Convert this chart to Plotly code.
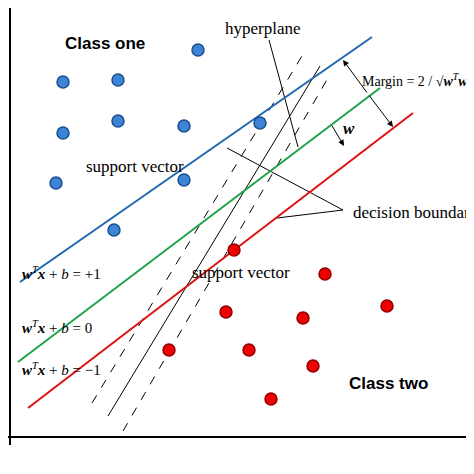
import plotly.graph_objects as go

blue_x = [63, 118, 198, 63, 118, 184, 260, 56, 184, 114]
blue_y = [82, 80, 50, 133, 121, 126, 123, 183, 180, 230]
red_x = [234, 325, 387, 226, 303, 169, 249, 313, 271]
red_y = [250, 274, 306, 312, 318, 350, 350, 366, 399]

# line endpoints (x0, y0, x1, y1) in picture units
blue_line = [20, 282, 372, 37]
green_line = [18, 362, 380, 88]
red_line = [28, 408, 413, 113]
dash_left = [92, 403, 305, 51]
solid_black = [108, 416, 320, 66]
dash_right = [123, 431, 328, 78]
hyper_ptr = [269, 40, 298, 147]
dec_ptr1 = [227, 148, 343, 210]
dec_ptr2 = [277, 218, 343, 210]
x_axis = [0, 437, 480, 437]
y_axis = [10, 0, 10, 445]

fig = go.Figure()
def seg(s, color, width=1.3, dash=None):
    fig.add_trace(go.Scatter(x=[s[0], s[2]], y=[s[1], s[3]], mode="lines",
                             line=dict(color=color, width=width, dash=dash),
                             hoverinfo="skip", showlegend=False))

seg(x_axis, "black", 2)
seg(y_axis, "black", 2)
seg(dash_left, "black", 1, "dash")
seg(dash_right, "black", 1, "dash")
seg(solid_black, "black", 1)
seg(hyper_ptr, "black", 1)
seg(dec_ptr1, "black", 1)
seg(dec_ptr2, "black", 1)
seg(blue_line, "#1f68b0", 2)
seg(green_line, "#1ea34a", 2)
seg(red_line, "#e01010", 2)

fig.add_trace(go.Scatter(x=blue_x, y=blue_y, mode="markers", showlegend=False,
                         marker=dict(size=12, color="#3d84d6", line=dict(color="#1a4f90", width=1.5))))
fig.add_trace(go.Scatter(x=red_x, y=red_y, mode="markers", showlegend=False,
                         marker=dict(size=12, color="#ee0000", line=dict(color="#900000", width=1.5))))

F = "Liberation Serif"
def txt(x, y, t, size=15, fam=F, anchor="center"):
    fig.add_annotation(x=x, y=y, text=t, showarrow=False, xanchor=anchor,
                       font=dict(family=fam, size=size, color="black"))

txt(105, 43, "<b>Class one</b>", 17, "Liberation Sans")
txt(388, 383, "<b>Class two</b>", 17, "Liberation Sans")
txt(263, 28, "hyperplane", 17)
txt(84, 166, "support vector", 17, anchor="left")
txt(190, 272, "support vector", 17, anchor="left")
txt(351, 212, "decision boundary", 17, anchor="left")
txt(360, 80, "Margin = 2 / √<b><i>w</i></b><sup><i>T</i></sup><b><i>w</i></b>", 14, anchor="left")
txt(341, 128, "<b><i>w</i></b>", 17, anchor="left")
txt(20, 273, "<b><i>w</i></b><sup><i>T</i></sup><b><i>x</i></b> + <i>b</i> = +1", 15, anchor="left")
txt(20, 327, "<b><i>w</i></b><sup><i>T</i></sup><b><i>x</i></b> + <i>b</i> = 0", 15, anchor="left")
txt(20, 369, "<b><i>w</i></b><sup><i>T</i></sup><b><i>x</i></b> + <i>b</i> = −1", 15, anchor="left")

# arrows
for (x0, y0, x1, y1) in [(368, 94, 343, 60), (368, 94, 393, 127), (331, 124, 344, 146)]:
    fig.add_annotation(x=x1, y=y1, ax=x0, ay=y0, xref="x", yref="y", axref="x", ayref="y",
                       showarrow=True, arrowhead=2, arrowsize=1.2, arrowwidth=1, arrowcolor="black", text="")

fig.update_xaxes(range=[8, 482], visible=False)
fig.update_yaxes(range=[482, 8], visible=False)
fig.update_layout(width=474, height=474, margin=dict(l=0, r=0, t=0, b=0),
                  plot_bgcolor="white", paper_bgcolor="white")
fig.write_html("out.html")
